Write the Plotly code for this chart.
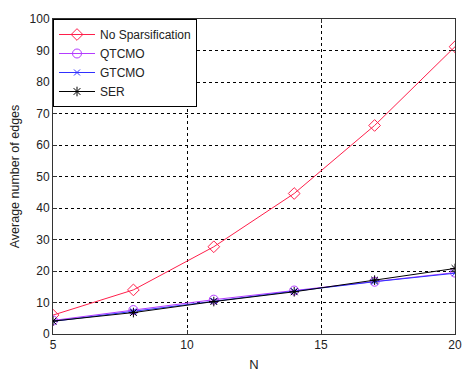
import plotly.graph_objects as go

N = [5, 8, 11, 14, 17, 20]
no_sparsification = [6.0, 14.0, 27.7, 44.6, 66.2, 91.2]
qtcmo = [4.3, 7.6, 10.9, 13.8, 16.6, 19.5]
gtcmo = [4.0, 7.2, 10.5, 13.6, 16.6, 19.3]
ser = [4.1, 6.8, 10.3, 13.4, 17.1, 20.8]

series = [
    ("No Sparsification", no_sparsification, "#ff1f4b", "diamond-open", 9),
    ("QTCMO", qtcmo, "#b43cff", "circle-open", 9),
    ("GTCMO", gtcmo, "#3030ff", "x-thin-open", 6),
    ("SER", ser, "#000000", "asterisk-open", 8),
]

fig = go.Figure()
for name, vals, color, sym, size in series:
    fig.add_trace(go.Scatter(
        x=N, y=vals, name=name, mode="lines+markers",
        line=dict(color=color, width=1),
        marker=dict(symbol=sym, size=size, color=color, line=dict(color=color, width=1)),
    ))

axis_common = dict(
    showline=True, linecolor="#333333", linewidth=1, mirror="ticks",
    ticks="inside", ticklen=4, tickcolor="#333333",
    showgrid=True, gridcolor="#000000", griddash="dot", gridwidth=1,
    zeroline=False, automargin=False,
    tickfont=dict(family="Liberation Sans, Arial", size=12, color="#222222"),
)

# page body has an 8px default margin, so the figure is sized to fill the rest
fig.update_layout(
    width=466, height=364,
    margin=dict(l=45, r=19, t=11, b=38),
    paper_bgcolor="white", plot_bgcolor="white",
    font=dict(family="Liberation Sans, Arial", size=12, color="#222222"),
    xaxis=dict(range=[5, 20], tickvals=[5, 10, 15, 20],
               title=dict(text="N", font=dict(size=13), standoff=8), **axis_common),
    yaxis=dict(range=[0, 100], tickvals=list(range(0, 101, 10)),
               title=dict(text="Average number of edges", font=dict(size=12.5), standoff=8), **axis_common),
    legend=dict(x=0, y=1, xanchor="left", yanchor="top",
                bgcolor="white", bordercolor="#000000", borderwidth=1,
                font=dict(size=12), tracegroupgap=0, itemwidth=36),
    showlegend=True,
)

fig.write_html("out.html")
